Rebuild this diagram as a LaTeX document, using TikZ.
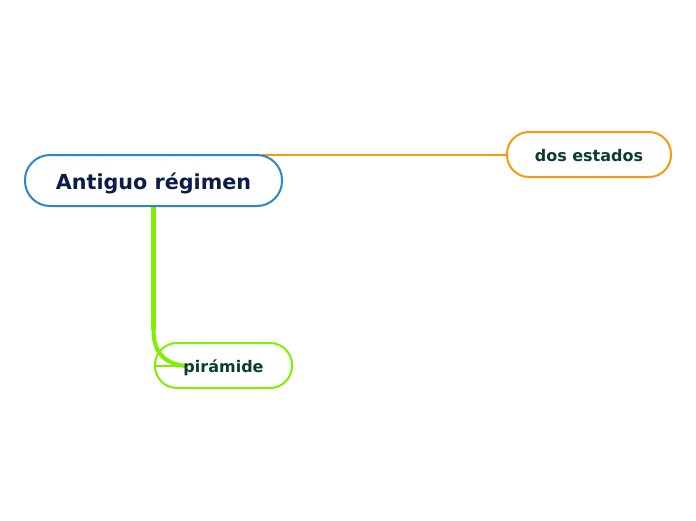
\documentclass[tikz,border=0pt]{standalone}
\usepackage{fontspec}
\setmainfont{DejaVu Sans}
\definecolor{mainblue}{HTML}{2B87C8}
\definecolor{navy}{HTML}{0C1B4B}
\definecolor{orng}{HTML}{F79A10}
\definecolor{lime}{HTML}{80F000}
\definecolor{dkgreen}{HTML}{0B3D2E}
\newcommand{\lowtext}[2]{\raisebox{-#1}[\height][\depth]{#2}}
\begin{document}
\begin{tikzpicture}[x=1pt,y=-1pt,
  pill/.style={draw,line width=2pt,fill=white,rounded corners=22pt,inner sep=0pt,font=\bfseries},
]
\useasboundingbox (0,0) rectangle (696,520);
% connectors first
\coordinate (oa) at (262,155);
\coordinate (ob) at (507,155);
\draw[orng,line width=1.2pt] (oa) -- (ob);
\coordinate (ga) at (153.5,206);
\coordinate (gb) at (153.5,330);
\coordinate (gc) at (186,366);
\coordinate (gd) at (156,366);
\draw[lime,line width=5pt] (ga) -- (gb);
\draw[lime,line width=4pt] (gb) .. controls (153.5,354) and (166,364) .. (gc);
\draw[lime,line width=1.2pt] (gd) -- (gc);
% nodes
\node[pill,draw=mainblue,minimum width=257pt,minimum height=51pt,rounded corners=25pt,text=navy,font=\bfseries\fontsize{20.7}{24}\selectfont] (main) at (153.5,180.5) {\lowtext{3pt}{Antiguo régimen}};
\node[pill,draw=orng,minimum width=164pt,minimum height=45pt,text=dkgreen,font=\bfseries\fontsize{16}{19}\selectfont] (dos) at (589,154.5) {\lowtext{1.5pt}{dos estados}};
\node[pill,draw=lime,fill=none,minimum width=137pt,minimum height=45pt,text=dkgreen,font=\bfseries\fontsize{16}{19}\selectfont] (pir) at (223.5,365.5) {\lowtext{2.5pt}{pirámide}};
\end{tikzpicture}
\end{document}
